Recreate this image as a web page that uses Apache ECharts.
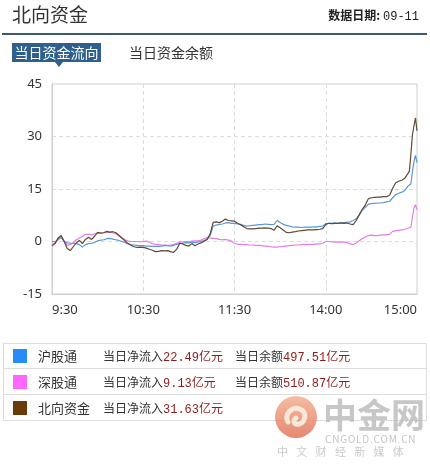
<!DOCTYPE html>
<html><head><meta charset="utf-8">
<script src="https://cdn.jsdelivr.net/npm/echarts@6/dist/echarts.min.js"></script>
<style>
body{margin:0;width:430px;height:470px;background:#fff;font-family:"Noto Sans CJK SC",sans-serif;position:relative;overflow:hidden;color:#333}
#chart{position:absolute;left:0;top:0;width:430px;height:470px}
.a{position:absolute;white-space:nowrap}
.mono{font-family:"Liberation Mono","DejaVu Sans Mono",monospace;color:#8c1c1c}
.t{font-size:12px;line-height:16px}
</style></head>
<body>
<div id="chart"></div>
<div class="a" style="left:12px;top:2px;font-size:19px;line-height:24px;color:#333">北向资金</div>
<div class="a" style="right:11px;top:7px;font-size:12px;line-height:16px;font-weight:bold;color:#222">数据日期: <span style="font-family:'Liberation Mono',monospace;font-weight:normal">09-11</span></div>
<div class="a" style="left:2px;top:33px;width:425px;height:2px;background:#3d5970"></div>
<div class="a" style="left:12px;top:43px;width:89px;height:19px;background:#2f5f8e;color:#fff;font-size:14px;line-height:19px;text-align:center">当日资金流向</div>
<div class="a" style="left:55px;top:62px;width:0;height:0;border-left:4px solid transparent;border-right:4px solid transparent;border-top:5px solid #2f5f8e"></div>
<div class="a" style="left:129px;top:43px;font-size:14px;line-height:19px;color:#333">当日资金余额</div>

<div class="a" style="left:3px;top:343px;width:422px;height:76px;border:1px solid #ddd"></div>
<div class="a" style="left:3px;top:368px;width:424px;height:1px;background:#ddd"></div>
<div class="a" style="left:3px;top:394px;width:424px;height:1px;background:#ddd"></div>
<div id="rows"></div>

<div class="a" style="left:0;top:0;width:430px;height:470px;opacity:0.8;pointer-events:none">
  <svg class="a" style="left:270px;top:392px" width="54" height="54" viewBox="0 0 54 54">
    <defs><linearGradient id="g" x1="0" y1="0" x2="0" y2="1"><stop offset="0" stop-color="#f3ad8c"/><stop offset="1" stop-color="#e06a4e"/></linearGradient></defs>
    <circle cx="26" cy="25" r="21" fill="url(#g)"/>
    <path d="M18 30 C14 22 22 14 30 17 C37 20 36 30 29 32 C24 33 22 28 26 26" fill="none" stroke="#fbe3cf" stroke-width="5" stroke-linecap="round"/>
  </svg>
  <div class="a" style="left:323px;top:394px;font-size:34px;line-height:40px;font-weight:bold;color:#b9b9b9">中金网</div>
  <div class="a" style="left:325px;top:433px;font-size:10px;line-height:12px;letter-spacing:0.8px;color:#b5b5b5">CNGOLD.COM.CN</div>
  <div class="a" style="left:277px;top:445px;font-size:11px;line-height:13px;letter-spacing:8.3px;color:#bdbdbd">中文财经新媒体</div>
</div>

<script>
const tickLabels = ['9:30','10:30','11:30','14:00','15:00'];
const seriesNames = ['沪股通','深股通','北向资金'];
const netInflow = ['22.49','9.13','31.63'];
const balance = ['497.51','510.87',null];

const minutes = [0,2,4,6,8,10,12,14,16,18,20,22,24,26,28,30,32,34,36,38,40,42,44,46,48,50,52,54,56,58,
60,62,64,66,68,70,72,74,76,78,80,82,84,86,88,90,92,94,96,98,100,102,104,106,108,110,112,114,116,118,
120,122,124,126,128,130,132,134,136,138,140,142,144,146,148,150,152,154,156,158,160,162,164,166,168,170,172,174,176,178,
180,182,184,186,188,190,192,194,196,198,200,202,204,206,208,210,212,214,216,218,220,222,224,226,228,230,232,234,
235,236,237,238,239,240];

const north = [-1.2,-0.6,1.0,1.7,0.0,-2.0,-2.6,-1.5,-0.4,0.3,
-0.6,0.6,1.2,0.6,1.5,2.6,2.4,2.5,2.9,2.7,
2.8,2.5,1.8,1.0,0.2,-0.6,-1.1,-1.5,-1.7,-1.6,
-1.7,-1.9,-2.2,-2.5,-2.9,-2.8,-2.6,-2.7,-2.6,-2.9,
-3.1,-2.2,-0.5,-0.7,-1.1,-1.3,-0.6,-1.2,-0.7,-0.4,
0.1,0.6,2.2,5.5,5.6,5.4,5.8,6.4,6.0,5.9,
5.8,5.2,4.8,4.2,3.7,3.6,3.6,3.7,3.8,3.8,
3.9,3.8,3.7,3.2,4.5,3.9,3.3,2.6,2.5,2.7,
2.8,3.0,3.1,3.2,3.3,3.3,3.3,3.4,3.5,3.7,
4.9,5.2,5.1,5.2,5.2,5.3,5.2,5.3,5.0,4.8,
6.0,7.6,9.2,10.4,12.2,12.5,12.6,12.7,12.7,12.8,
12.8,13.2,15.2,16.8,17.2,17.5,18.1,19.4,
20.1,25.0,30.5,33.0,35.3,31.6];

const shanghai = [0.0,-0.1,0.6,1.1,0.0,-0.4,-0.5,-0.5,-0.6,-0.9,
-1.6,-0.9,-0.6,-0.5,-0.3,0.2,0.4,0.5,0.8,0.9,
0.7,0.5,0.3,0.0,-0.3,-0.7,-0.9,-1.0,-1.1,-1.2,
-1.2,-1.3,-1.3,-1.4,-1.4,-1.4,-1.3,-1.2,-1.2,-1.3,
-1.1,-0.8,-0.6,-0.5,-0.3,-0.4,-0.2,-0.3,-0.1,0.0,
0.3,0.6,1.7,4.4,4.7,4.9,5.0,5.3,5.4,5.2,
5.2,5.0,4.9,4.6,4.4,4.5,4.6,4.7,4.8,4.8,
5.0,4.9,4.8,4.9,6.0,5.4,4.9,4.6,4.4,4.2,
4.1,4.1,4.0,4.1,4.1,4.1,4.2,4.2,4.3,4.4,
5.1,5.2,5.2,5.3,5.2,5.3,5.4,5.5,5.6,6.0,
6.5,7.6,8.9,9.8,10.6,10.8,10.9,11.0,11.0,11.1,
11.3,11.5,12.5,13.4,13.8,14.1,14.6,15.8,
16.2,16.5,20.0,22.8,24.6,22.5];

const shenzhen = [-1.0,-0.5,0.6,1.5,0.2,-1.1,-0.9,-0.3,0.5,1.0,
1.4,2.0,2.1,1.9,2.2,2.4,2.4,2.5,2.6,2.6,
2.5,2.2,1.6,1.0,0.5,0.1,0.0,0.0,0.0,-0.1,
0.0,0.1,-0.2,-0.6,-0.8,-0.9,-1.0,-1.0,-1.1,-1.0,
-0.8,-0.5,-0.2,-0.1,0.0,0.0,0.1,0.2,0.2,0.4,
0.8,1.1,1.0,0.9,0.8,0.6,0.5,0.6,0.4,0.1,
-0.5,-0.8,-0.8,-0.9,-0.9,-1.0,-1.0,-1.1,-1.1,-1.2,
-1.3,-1.4,-1.5,-1.6,-1.6,-1.5,-1.4,-1.3,-1.2,-1.1,
-1.0,-1.0,-0.9,-0.9,-0.9,-0.8,-0.8,-0.7,-0.7,-0.5,
0.0,0.0,-0.1,-0.2,-0.1,-0.2,-0.2,-0.3,-0.7,-0.9,
-0.4,0.2,0.8,1.3,1.7,1.8,1.7,1.7,1.8,1.9,
1.9,2.1,2.9,3.1,3.2,3.3,3.5,3.8,
3.9,4.1,7.0,9.5,10.5,9.1];

const lineColors = ['#5b97d8','#e77de6','#5f4a35'];
const legendColors = ['#2a8af7','#ff66ff','#6b3a0b'];

// legend table rows
const rows = document.getElementById('rows');
seriesNames.forEach((n,i)=>{
  const c = 356 + i*25.8;
  let h = '<div class="a" style="left:13px;top:'+(c-7)+'px;width:14px;height:14px;background:'+legendColors[i]+'"></div>';
  h += '<div class="a" style="left:38px;top:'+(c-9)+'px;font-size:13px;line-height:18px">'+n+'</div>';
  h += '<div class="a t" style="left:103px;top:'+(c-8)+'px">当日净流入<span class="mono">'+netInflow[i]+'</span><span style="color:#8c1c1c">亿元</span></div>';
  if (balance[i]) h += '<div class="a t" style="left:235px;top:'+(c-8)+'px">当日余额<span class="mono">'+balance[i]+'</span><span style="color:#8c1c1c">亿元</span></div>';
  rows.insertAdjacentHTML('beforeend', h);
});

const chart = echarts.init(document.getElementById('chart'));
const dash = {color:'#dcdcdc',type:[4,3],width:1};
const order = [1,0,2];
const allVals = [shanghai, shenzhen, north];
chart.setOption({
  animation:false,
  grid:{left:52,right:13,top:84,bottom:176,show:true,borderColor:'#cfcfcf',borderWidth:1},
  xAxis:{type:'value',min:0,max:240,interval:60,
    axisLine:{show:true,onZero:false,lineStyle:{color:'#cfcfcf'}},axisTick:{show:false},
    axisLabel:{color:'#333',fontSize:13,margin:10,fontFamily:'Noto Sans',formatter:v=>tickLabels[Math.round(v/60)]||'',alignMinLabel:'left',alignMaxLabel:'right'},
    splitLine:{show:true,showMinLine:false,showMaxLine:false,lineStyle:dash}},
  yAxis:{type:'value',min:-15,max:45,interval:15,
    axisLine:{show:true,lineStyle:{color:'#cfcfcf'}},axisTick:{show:false},
    axisLabel:{color:'#333',fontSize:13,margin:10,fontFamily:'Noto Sans'},
    splitLine:{show:true,showMinLine:false,showMaxLine:false,lineStyle:dash}},
  series: order.map(i=>({
    name:seriesNames[i], type:'line', showSymbol:false, symbol:'none',
    lineStyle:{color:lineColors[i],width:1.2}, itemStyle:{color:lineColors[i]},
    data: minutes.map((m,k)=>[m, allVals[i][k]])
  }))
});
</script>
</body></html>
